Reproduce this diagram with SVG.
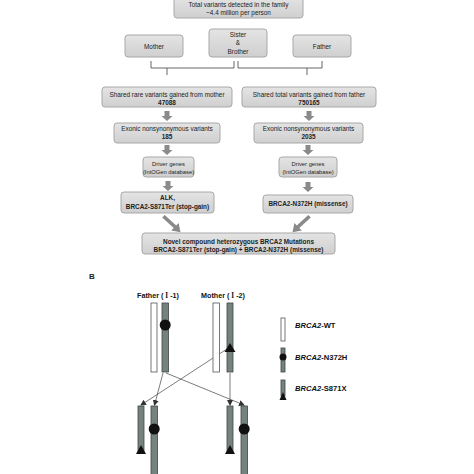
<svg xmlns="http://www.w3.org/2000/svg" width="474" height="474" viewBox="0 0 474 474">
<defs>
<linearGradient id="g" x1="0" y1="0" x2="0" y2="1"><stop offset="0" stop-color="#e4e4e4"/><stop offset="1" stop-color="#cfcfcf"/></linearGradient>
<marker id="ah" markerWidth="6" markerHeight="6" refX="5" refY="3" orient="auto" markerUnits="userSpaceOnUse"><path d="M0,0 L6,3 L0,6 Z" fill="#333"/></marker>
<style>
.box{fill:url(#g);stroke:#a8a8a8;stroke-width:1}
.t{font-family:"Liberation Sans",Arial,sans-serif;font-size:6.4px;fill:#222;text-anchor:middle}
.s{font-size:5.8px}
.b{font-weight:bold}
.blk{fill:#8a8a8a}
.wt{fill:#fff;stroke:#555;stroke-width:0.8}
.mu{fill:#75827f;stroke:#3f4644;stroke-width:0.8}
.dot{fill:#111}
.ln{stroke:#444;stroke-width:0.7;fill:none;marker-end:url(#ah)}
.lb{font-family:"Liberation Sans",Arial,sans-serif;font-size:7.2px;font-weight:bold;fill:#111}
.rn{font-family:"Liberation Serif","Times New Roman",serif;font-weight:bold}
.lg{font-family:"Liberation Sans",Arial,sans-serif;font-size:7.6px;font-weight:bold;fill:#111}
</style>
</defs>
<rect width="474" height="474" fill="#fff"/>

<g id="top"><rect class="box" x="174" y="-3" width="129" height="21" rx="3"/>
<text class="t" x="238.5" y="7">Total variants detected in the family</text>
<text class="t" x="238.5" y="15">~4.4 million per person</text></g>
<g id="mother"><rect class="box" x="125" y="35" width="58" height="22" rx="3"/><text class="t" x="154" y="49">Mother</text></g>
<g id="sibs"><rect class="box" x="209" y="29" width="58" height="28" rx="3"/>
<text class="t" x="238" y="37">Sister</text><text class="t" x="238" y="45">&amp;</text><text class="t" x="238" y="54">Brother</text></g>
<g id="father"><rect class="box" x="293" y="35" width="58" height="22" rx="3"/><text class="t" x="322" y="49">Father</text></g>

<g id="brackets" fill="none" stroke="#555" stroke-width="0.9">
<path d="M151,61 L151,68 L234,68 L234,61 M167,68 L167,75"/>
<path d="M238,61 L238,68 L322,68 L322,61 M307,68 L307,75"/>
</g>

<g id="sharedMother"><rect class="box" x="102" y="87" width="130" height="20" rx="3"/>
<text class="t" x="167" y="97">Shared rare variants gained from mother</text><text class="t b" x="167" y="105">47088</text></g>
<g id="sharedFather"><rect class="box" x="242" y="87" width="134" height="20" rx="3"/>
<text class="t" x="309" y="97">Shared total variants gained from father</text><text class="t b" x="309" y="105">750165</text></g>
<g id="exonM"><rect class="box" x="114" y="123" width="106" height="20" rx="3"/>
<text class="t" x="167" y="131">Exonic nonsynonymous variants</text><text class="t b" x="167" y="139">185</text></g>
<g id="exonF"><rect class="box" x="254" y="123" width="109" height="20" rx="3"/>
<text class="t" x="308.5" y="131">Exonic nonsynonymous variants</text><text class="t b" x="308.5" y="139">2035</text></g>
<g id="driverM"><rect class="box" x="143" y="157" width="51" height="20" rx="3"/>
<text class="t s" x="168.5" y="166">Driver genes</text><text class="t s" x="168.5" y="173.5">(IntOGen database)</text></g>
<g id="driverF"><rect class="box" x="279" y="157" width="58" height="20" rx="3"/>
<text class="t s" x="308" y="166">Driver genes</text><text class="t s" x="308" y="173.5">(IntOGen database)</text></g>
<g id="resM"><rect class="box" x="121" y="192" width="93" height="21" rx="3"/>
<text class="t b" x="167.5" y="200">ALK,</text><text class="t b" x="167.5" y="209">BRCA2-S871Ter (stop-gain)</text></g>
<g id="resF"><rect class="box" x="263" y="195" width="90" height="18" rx="3"/>
<text class="t b" x="308" y="206">BRCA2-N372H (missense)</text></g>
<g id="final"><rect class="box" x="142" y="233" width="193" height="21" rx="3"/>
<text class="t b" x="238.5" y="244">Novel compound heterozygous BRCA2 Mutations</text>
<text class="t b" x="238.5" y="252">BRCA2-S871Ter (stop-gain) + BRCA2-N372H (missense)</text></g>

<g id="connectors">
<g class="blk">
<path d="M164.5,111 h5 v5 h3 l-5.5,5 l-5.5,-5 h3 z"/>
<path d="M306.5,111 h5 v5 h3 l-5.5,5 l-5.5,-5 h3 z"/>
<path d="M164.5,145 h5 v5 h3 l-5.5,5 l-5.5,-5 h3 z"/>
<path d="M305.5,145 h5 v5 h3 l-5.5,5 l-5.5,-5 h3 z"/>
<path d="M165.5,181 h5 v5 h3 l-5.5,5 l-5.5,-5 h3 z"/>
<path d="M305.5,182 h5 v5 h3 l-5.5,5 l-5.5,-5 h3 z"/>
<path d="M164.7,215 l11.5,10.5 l2.4,-2.6 l1.9,9.3 l-9.3,-1.6 l2.5,-2.6 l-11.5,-10.5 z"/>
<path d="M308.3,215 l-11.5,10.5 l-2.4,-2.6 l-1.9,9.3 l9.3,-1.6 l-2.5,-2.6 l11.5,-10.5 z"/>
</g>
<path class="ln" d="M163,373 L154.5,405"/>
<path class="ln" d="M166,373 L244,405"/>
<path class="ln" d="M230,347 L141,405"/>
<path class="ln" d="M230,373 L230,405"/>
</g>

<text x="89" y="279" font-family="Liberation Sans,Arial,sans-serif" font-size="8" font-weight="bold" fill="#222">B</text>

<g id="fatherB">
<text class="lb" x="137" y="298">Father ( <tspan class="rn">I</tspan> -1)</text>
<rect class="wt" x="151" y="303" width="6" height="69"/>
<rect class="mu" x="162" y="303" width="6.5" height="69"/>
<circle class="dot" cx="165.2" cy="325" r="5.5"/>
</g>
<g id="motherB">
<text class="lb" x="201" y="298">Mother ( <tspan class="rn">I</tspan> -2)</text>
<rect class="wt" x="213" y="303" width="6.5" height="69"/>
<rect class="mu" x="227" y="303" width="6" height="69"/>
<path class="dot" d="M230,343 L235.5,352 L224.5,352 Z"/>
</g>
<g id="child1">
<rect class="mu" x="138" y="406" width="6" height="47"/>
<path class="dot" d="M141,445 L146,454 L136,454 Z"/>
<rect class="mu" x="151" y="406" width="6.5" height="70"/>
<circle class="dot" cx="154.2" cy="429" r="5.5"/>
</g>
<g id="child2">
<rect class="mu" x="227" y="406" width="6" height="47"/>
<path class="dot" d="M230,445 L235,454 L225,454 Z"/>
<rect class="mu" x="241" y="406" width="6.5" height="70"/>
<circle class="dot" cx="244.2" cy="429" r="5.5"/>
</g>

<g id="legend">
<rect class="wt" x="281" y="318" width="4" height="23"/>
<text class="lg" x="295" y="328"><tspan font-style="italic">BRCA2</tspan>-WT</text>
<rect class="mu" x="281" y="348" width="4" height="24"/>
<circle class="dot" cx="283" cy="357" r="3.5"/>
<text class="lg" x="295" y="360"><tspan font-style="italic">BRCA2</tspan>-N372H</text>
<rect class="mu" x="281" y="380" width="4" height="16"/>
<path class="dot" d="M283,392 L286.5,400 L279.5,400 Z"/>
<text class="lg" x="295" y="391"><tspan font-style="italic">BRCA2</tspan>-S871X</text>
</g>
</svg>
